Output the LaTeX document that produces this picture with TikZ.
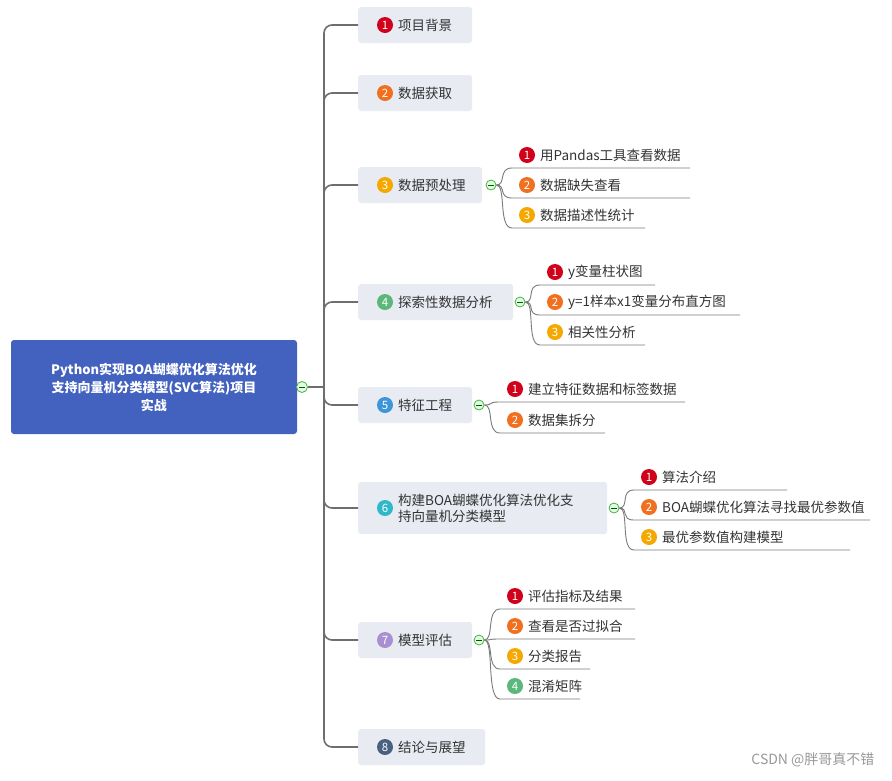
\documentclass[tikz,border=0pt]{standalone}
\usepackage{fontspec}
\setmainfont{Noto Sans CJK SC}
\usetikzlibrary{calc}
\begin{document}
\begin{tikzpicture}[x=1pt,y=-1pt,
  box/.style={fill=boxc,rounded corners=3pt,inner sep=0},
  badge/.style={circle,fill=#1,inner sep=0,minimum size=16pt,text=white,font=\fontsize{11.5}{11.5}\selectfont},
  lbl/.style={anchor=west,inner sep=0,text=txt,font=\fontsize{13.5}{16}\selectfont},
  col/.style={circle,draw=green!55!black!70,fill=green!12,line width=0.8pt,inner sep=0,minimum size=10pt,
    path picture={\draw[green!35!black,line width=0.8pt] ([xshift=-3pt]path picture bounding box.center) -- ([xshift=3pt]path picture bounding box.center);}},
  ln/.style={draw=linec,line width=0.9pt},
  trunk/.style={draw=trunkc,line width=1.6pt,rounded corners=8pt}]
\definecolor{boxc}{HTML}{E9EBF3}
\definecolor{txt}{HTML}{333333}
\definecolor{linec}{HTML}{7A7A7A}
\definecolor{trunkc}{HTML}{6E6E6E}
\definecolor{rootc}{HTML}{4361BE}
\definecolor{n1}{HTML}{D0021B}\definecolor{n2}{HTML}{F07020}\definecolor{n3}{HTML}{F5A800}
\definecolor{n4}{HTML}{5BB87A}\definecolor{n5}{HTML}{3C96D8}\definecolor{n6}{HTML}{30B8C8}
\definecolor{n7}{HTML}{A890D0}\definecolor{n8}{HTML}{4A6080}
\useasboundingbox (0,0) rectangle (892,780);
\fill[white] (0,0) rectangle (892,780);
% root
\node[fill=rootc,rounded corners=3pt,minimum width=286pt,minimum height=94pt,text=white,
  font=\bfseries\fontsize{13}{18}\selectfont,align=center] (root) at (154,387)
  {Python实现BOA蝴蝶优化算法优化\\支持向量机分类模型(SVC算法)项目\\实战};
\node[col,minimum size=11pt] (c0) at (302,387) {};
\coordinate (j) at (324,387);
\draw[trunk] (c0.east) -- (j);
\foreach \i/\y/\w/\t in {1/25/114/项目背景,2/93/114/数据获取,3/185/124/数据预处理,4/302/155/探索性数据分析,5/405/114/特征工程,7/640/114/模型评估,8/747/127/结论与展望}{
  \node[box,minimum width=\w pt,minimum height=36pt,anchor=west] (m\i) at (358,\y) {};
  \node[badge=n\i] (b\i) at (385,\y) {\i};
  \node[lbl] (t\i) at (398,\y) {\t};
  \draw[trunk] (j) |- (m\i.west);
}
\node[box,minimum width=249pt,minimum height=52pt,anchor=west] (m6) at (358,508) {};
\node[badge=n6] (b6) at (385,508) {6};
\node[lbl,align=left] (t6) at (398,508) {构建BOA蝴蝶优化算法优化支\\持向量机分类模型};
\draw[trunk] (j) |- (m6.west);
\node[col] (c3) at (491,185) {};
\node[col] (c4) at (520,302) {};
\node[col] (c5) at (479,405) {};
\node[col] (c6) at (614,508) {};
\node[col] (c7) at (479,640) {};
\foreach \p/\x/\n/\y/\e/\c/\k/\t in {
 3/512/d31/155/690/n1/1/用Pandas工具查看数据,
 3/512/d32/185/690/n2/2/数据缺失查看,
 3/512/d33/215/645/n3/3/数据描述性统计,
 4/540/d41/272/655/n1/1/y变量柱状图,
 4/540/d42/302/740/n2/2/y=1样本x1变量分布直方图,
 4/540/d43/332/645/n3/3/相关性分析,
 5/500/d51/389/685/n1/1/建立特征数据和标签数据,
 5/500/d52/420/605/n2/2/数据集拆分,
 6/634/d61/477/787/n1/1/算法介绍,
 6/634/d62/507/870/n2/2/BOA蝴蝶优化算法寻找最优参数值,
 6/634/d63/537/850/n3/3/最优参数值构建模型,
 7/500/d71/596/635/n1/1/评估指标及结果,
 7/500/d72/626/635/n2/2/查看是否过拟合,
 7/500/d73/656/590/n3/3/分类报告,
 7/500/d74/686/580/n4/4/混淆矩阵}{
  \coordinate (\n s) at (\x,\y+13);
  \coordinate (\n e) at (\e,\y+13);
  \node[badge=\c] (\n b) at (\x+15,\y) {\k};
  \node[lbl] (\n t) at (\x+28,\y) {\t};
  \draw[ln] (c\p.east) .. controls ($(c\p.east)+(10,0)$) and ($(\n s)+(-14,0)$) .. (\n s) -- (\n e);
}
\node[anchor=east,text=gray!80,font=\fontsize{14}{16}\selectfont] (wm) at (878,760) {CSDN @胖哥真不错};
\end{tikzpicture}
\end{document}
